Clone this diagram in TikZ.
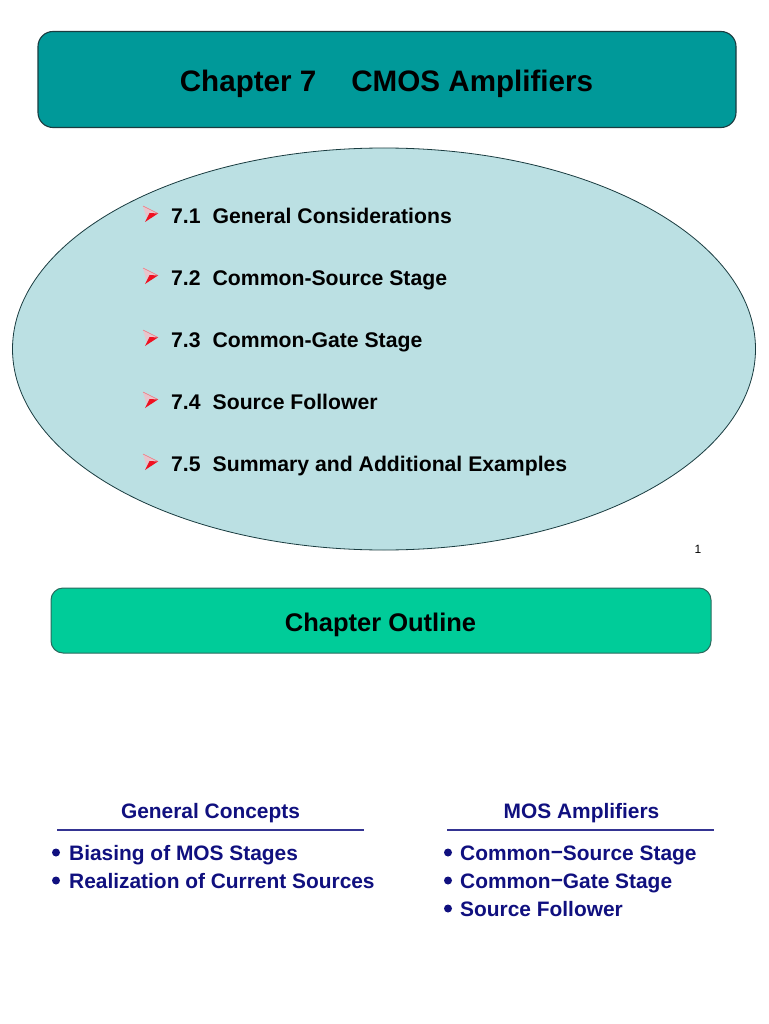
\documentclass[tikz,border=0pt]{standalone}
\usepackage{fontspec}
\usetikzlibrary{shapes.geometric}
\setmainfont{Liberation Sans}
\definecolor{titlefill}{HTML}{009999}
\definecolor{ovalfill}{HTML}{BBE0E3}
\definecolor{outlinefill}{HTML}{00CC99}
\definecolor{edgedark}{HTML}{1A3C40}
\definecolor{edgegreen}{HTML}{2A6B5E}
\definecolor{navy}{HTML}{10107F}
\definecolor{arrowred}{HTML}{F01020}
\definecolor{arrowpale}{HTML}{E8C4CC}
\tikzset{
  x=1pt,y=-1pt,
  itemtext/.style={anchor=base west,inner sep=0pt,font=\fontsize{21.2}{24}\selectfont\bfseries,text=black},
  headtext/.style={anchor=base,inner sep=0pt,text=navy,font=\fontsize{20.9}{24}\selectfont\bfseries},
  bluetext/.style={anchor=base west,inner sep=0pt,text=navy,font=\fontsize{20.9}{24}\selectfont\bfseries},
  rulestyle/.style={draw=navy!85!white,line width=1.5pt},
  dotstyle/.style={fill=navy,draw=none,circle,inner sep=0pt,minimum size=8pt}
}
\newcommand{\arrowbullet}[2]{%
  \fill[arrowpale] (#1,#2) -- ++(15,7.5) -- ++(-9,-0.5) -- ++(-2.5,5) -- cycle;
  \draw[arrowred!60!white,line width=0.5pt] (#1,#2) -- ++(15,7.5);
  \fill[arrowred] (#1,#2) ++(2,16) -- ++(13,-8.5) -- ++(-8.5,-0.5) -- cycle;
}
\begin{document}
\begin{tikzpicture}
\useasboundingbox (0,0) rectangle (768,1024);
\fill[white] (0,0) rectangle (768,1024);
\node[draw=edgedark,fill=titlefill,line width=1.1pt,rounded corners=15pt,minimum width=698pt,minimum height=96pt,inner sep=0pt] (title) at (387,79.5) {};
\node[anchor=base,inner sep=0pt,font=\fontsize{29.6}{32}\selectfont\bfseries] (titletext) at (386.5,91.5) {Chapter 7\hspace{35pt}CMOS Amplifiers};
\node[draw=edgedark,fill=ovalfill,ellipse,line width=0.8pt,minimum width=743pt,minimum height=402pt,inner sep=0pt] (oval) at (384,349) {};
\arrowbullet{143}{206}
\arrowbullet{143}{268}
\arrowbullet{143}{330}
\arrowbullet{143}{392}
\arrowbullet{143}{454}
\node[itemtext] (i1) at (171,223) {7.1\hspace{12pt}General Considerations};
\node[itemtext] (i2) at (171,285) {7.2\hspace{12pt}Common-Source Stage};
\node[itemtext] (i3) at (171,347) {7.3\hspace{12pt}Common-Gate Stage};
\node[itemtext] (i4) at (171,409) {7.4\hspace{12pt}Source Follower};
\node[itemtext] (i5) at (171,471) {7.5\hspace{12pt}Summary and Additional Examples};
\node[anchor=base,inner sep=0pt,font=\fontsize{12}{14}\selectfont] (pg) at (698,553) {1};
\node[draw=edgegreen,fill=outlinefill,line width=1pt,rounded corners=12pt,minimum width=660pt,minimum height=65pt,inner sep=0pt] (outline) at (381,620.5) {};
\node[anchor=base,inner sep=0pt,font=\fontsize{25.5}{28}\selectfont\bfseries] (outlinetext) at (380.5,631) {Chapter Outline};
\node[headtext] (h1) at (210.5,818) {General Concepts};
\draw[rulestyle] (57,830) -- (364,830);
\node[dotstyle] (d1) at (56,852.5) {};
\node[dotstyle] (d2) at (56,880.5) {};
\node[bluetext] (b1) at (69,860) {Biasing of MOS Stages};
\node[bluetext] (b2) at (69,888) {Realization of Current Sources};
\node[headtext] (h2) at (581.5,818) {MOS Amplifiers};
\draw[rulestyle] (447,830) -- (714,830);
\node[dotstyle] (d3) at (448,852.5) {};
\node[dotstyle] (d4) at (448,880.5) {};
\node[dotstyle] (d5) at (448,908.5) {};
\node[bluetext] (c1) at (460,860) {Common\raisebox{1pt}{−}Source Stage};
\node[bluetext] (c2) at (460,888) {Common\raisebox{1pt}{−}Gate Stage};
\node[bluetext] (c3) at (460,916) {Source Follower};
\end{tikzpicture}
\end{document}
